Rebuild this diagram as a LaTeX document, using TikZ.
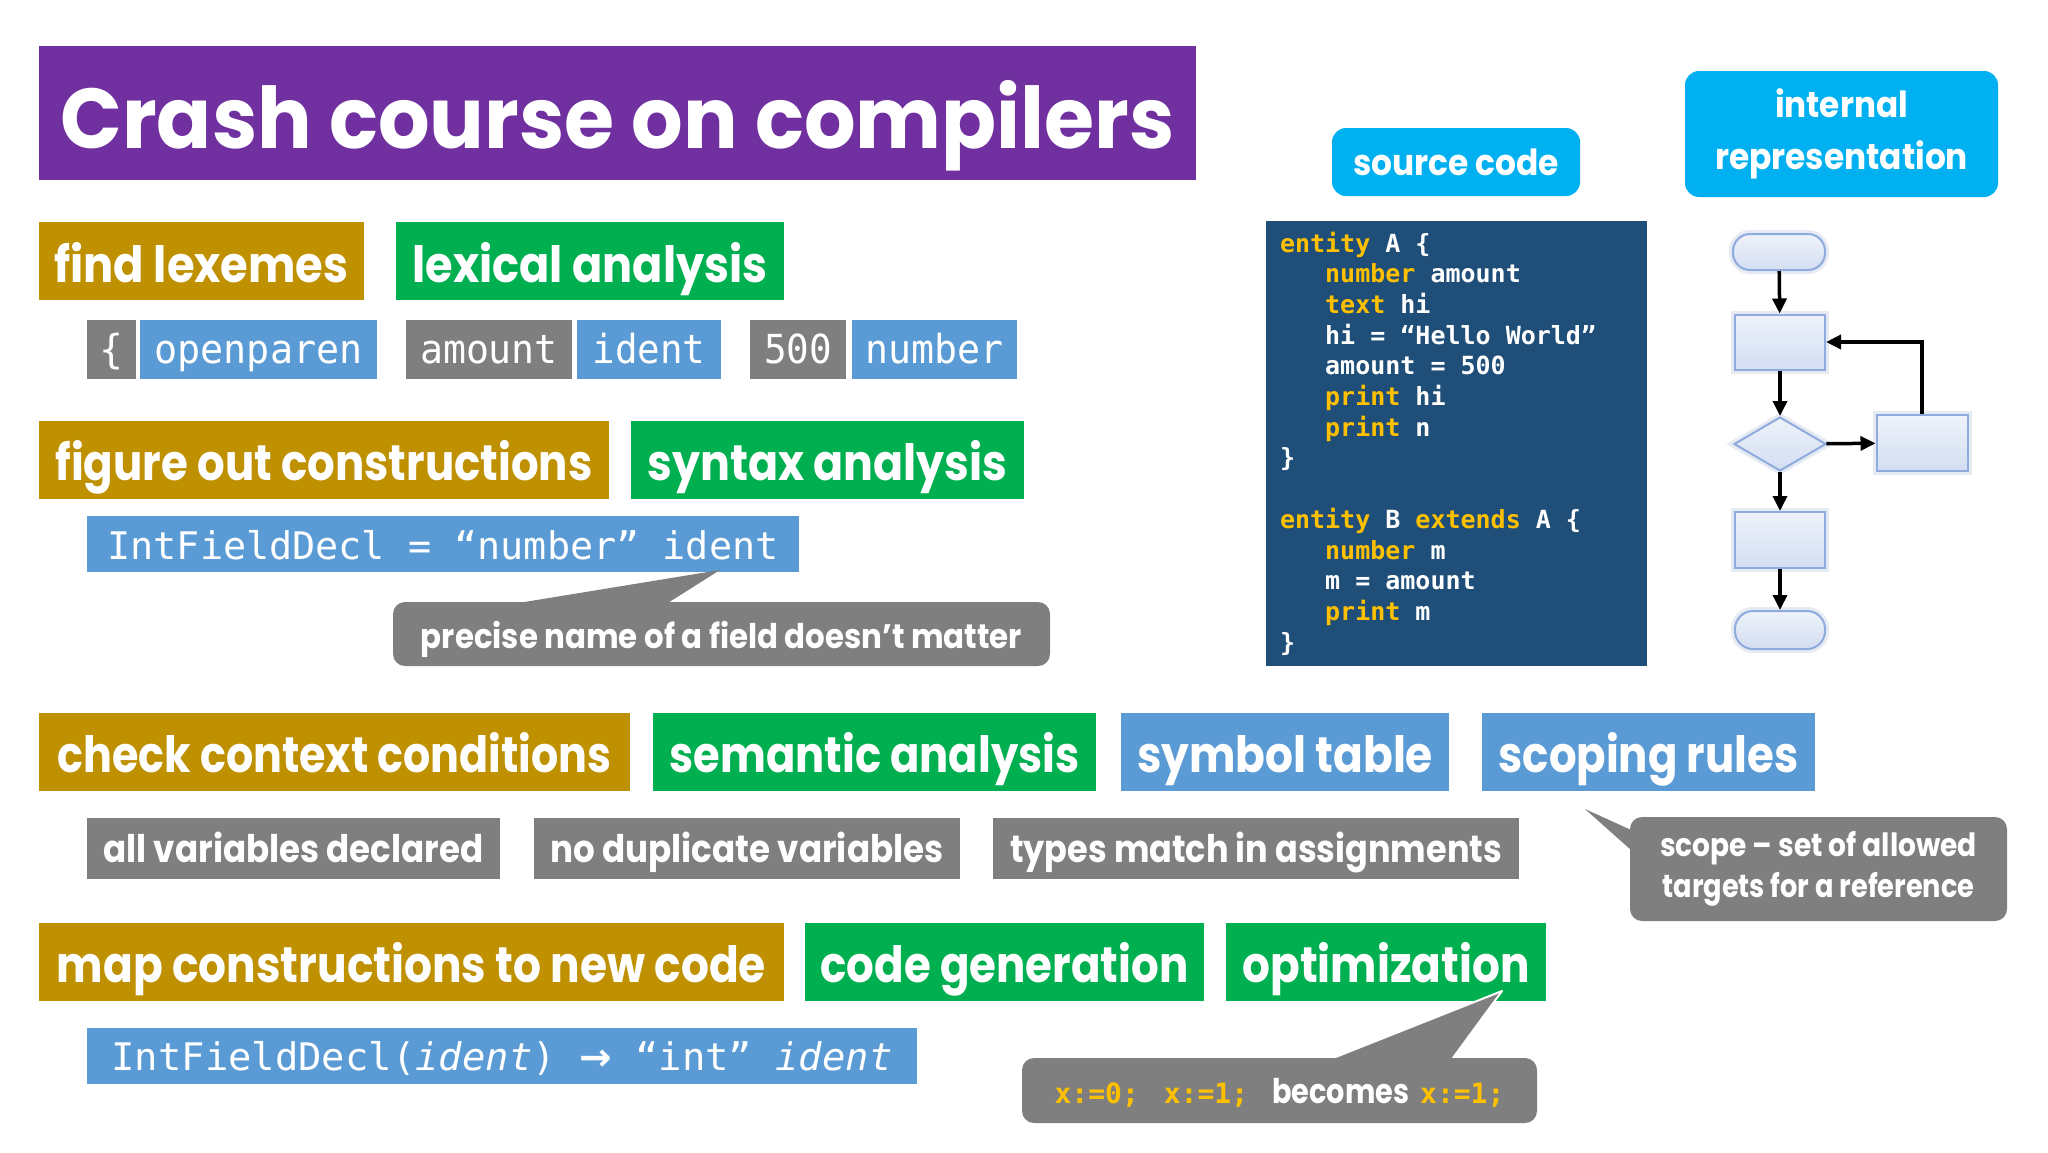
\documentclass[tikz,border=0pt]{standalone}
\usepackage{fontspec}
\usepackage{graphicx}
\setmainfont{Poppins}
\setmonofont{DejaVu Sans Mono}
\newfontfamily\dvsans{DejaVu Sans}
\usetikzlibrary{shapes.geometric,arrows.meta}
\definecolor{cpurple}{HTML}{7030A0}
\definecolor{cgold}{HTML}{BF9000}
\definecolor{cgreen}{HTML}{00B050}
\definecolor{cblue}{HTML}{5B9BD5}
\definecolor{cgray}{HTML}{7F7F7F}
\definecolor{ccyan}{HTML}{00B0F0}
\definecolor{ccode}{HTML}{1F4E79}
\definecolor{kwyellow}{HTML}{FFC000}
\definecolor{fcborder}{HTML}{8FAADC}
\definecolor{fcglow}{HTML}{E6EBF3}
\definecolor{fctop}{HTML}{EEF2FA}
\definecolor{fcbot}{HTML}{D3DEF2}
\newcommand{\fitw}[2]{\resizebox{#1pt}{\height}{#2}}
\newcommand{\kw}[1]{{\color{kwyellow}#1}}
\newcommand{\ms}{\hspace*{15.05pt}}
\newcommand{\ind}{\hspace*{45.15pt}}
\tikzset{
  base/.style={rectangle, inner sep=0pt, outer sep=0pt, text=white},
  head/.style={base, minimum height=78pt, text height=46pt, text depth=4pt, font=\fontsize{50}{60}\selectfont\bfseries},
  tok/.style={base, minimum height=59pt, text height=32pt, text depth=5pt, font=\fontsize{40}{48}\selectfont\ttfamily},
  item/.style={base, fill=cgray, minimum height=61pt, text height=31pt, text depth=4pt, font=\fontsize{38}{46}\selectfont\bfseries},
  rule/.style={base, fill=cblue, minimum height=56pt, font=\fontsize{38}{46}\selectfont\ttfamily},
  callout/.style={base, fill=cgray, rounded corners=12pt, font=\fontsize{34}{41}\selectfont\bfseries},
  btn/.style={base, fill=ccyan, rounded corners=14pt, font=\fontsize{36}{51.5}\selectfont\bfseries},
  fc/.style={draw=fcborder, top color=fctop, bottom color=fcbot, line width=2pt, inner sep=0pt, preaction={draw=fcglow, line width=8pt}},
  fcarrow/.style={-{Triangle[length=15pt,width=14pt]}, line width=3.5pt, black},
}
\begin{document}
\begin{tikzpicture}[x=1pt,y=-1pt]
\useasboundingbox[fill=white] (0,0) rectangle (2048,1152);

% title
\node[base, fill=cpurple, minimum width=1157pt, minimum height=134pt, text height=80pt, text depth=10pt, font=\fontsize{85}{100}\selectfont\bfseries] (title) at (617.5,113) {\fitw{1114}{Crash course on compilers}};

% row 1
\node[head, fill=cgold, minimum width=325pt] (lex1) at (201.5,261) {\fitw{294}{find lexemes}};
\node[head, fill=cgreen, minimum width=388pt] (lex2) at (590,261) {\fitw{355}{lexical analysis}};
\node[tok, fill=cgray, minimum width=49pt] (tk1) at (111.5,349.5) {\{};
\node[tok, fill=cblue, minimum width=237pt] (tk2) at (258.5,349.5) {\fitw{208}{openparen}};
\node[tok, fill=cgray, minimum width=166pt] (tk3) at (489,349.5) {\fitw{138}{amount}};
\node[tok, fill=cblue, minimum width=144pt] (tk4) at (649,349.5) {\fitw{113}{ident}};
\node[tok, fill=cgray, minimum width=96pt] (tk5) at (798,349.5) {\fitw{68}{500}};
\node[tok, fill=cblue, minimum width=165pt] (tk6) at (934.5,349.5) {\fitw{138}{number}};

% row 2
\node[head, fill=cgold, minimum width=570pt] (syn1) at (324,459.5) {\fitw{537}{figure out constructions}};
\node[head, fill=cgreen, minimum width=393pt] (syn2) at (827.5,459.5) {\fitw{360}{syntax analysis}};
\node[rule, minimum width=712pt, text height=34pt, text depth=4pt] (ifd1) at (443,544) {\fitw{671}{IntFieldDecl = “number” ident}};
\coordinate (p1tip) at (720,570);
\coordinate (p1a) at (500,606);
\coordinate (p1b) at (663,606);
\fill[cgray] (p1tip) -- (p1a) -- (p1b) -- cycle;
\node[callout, minimum width=657pt, minimum height=64pt, text height=32pt, text depth=4pt] (note1) at (721.5,634) {\fitw{601}{precise name of a field doesn’t matter}};

% row 3
\node[head, fill=cgold, minimum width=591pt] (sem1) at (334.5,751.5) {\fitw{554}{check context conditions}};
\node[head, fill=cgreen, minimum width=443pt] (sem2) at (874.5,751.5) {\fitw{410}{semantic analysis}};
\node[head, fill=cblue, minimum width=328pt] (sym) at (1285,751.5) {\fitw{296}{symbol table}};
\node[head, fill=cblue, minimum width=333pt] (scp) at (1648.5,751.5) {\fitw{300}{scoping rules}};
\node[item, minimum width=413pt] (it1) at (293.5,848.5) {\fitw{380}{all variables declared}};
\node[item, minimum width=426pt] (it2) at (747,848.5) {\fitw{393}{no duplicate variables}};
\node[item, minimum width=526pt] (it3) at (1256,848.5) {\fitw{492}{types match in assignments}};
\coordinate (p2tip) at (1585,809);
\coordinate (p2a) at (1640,834);
\coordinate (p2b) at (1640,858);
\fill[cgray] (p2tip) -- (p2a) -- (p2b) -- cycle;
\node[callout, minimum width=377pt, minimum height=104pt, align=center, font=\fontsize{32}{41}\selectfont\bfseries] (note2) at (1818.5,869) {\fitw{317}{scope – set of allowed}\\\fitw{312}{targets for a reference}};

% row 4
\node[head, fill=cgold, minimum width=745pt] (gen1) at (411.5,961.5) {\fitw{709}{map constructions to new code}};
\node[head, fill=cgreen, minimum width=399pt] (gen2) at (1004.5,961.5) {\fitw{368}{code generation}};
\node[head, fill=cgreen, minimum width=320pt] (opt) at (1386,961.5) {\fitw{287}{optimization}};
\node[rule, minimum width=830pt, text height=33pt, text depth=5pt] (ifd2) at (502,1056) {\fitw{781}{IntFieldDecl(\textit{ident}) {\dvsans\bfseries →} “int” \textit{ident}}};
\coordinate (p3tip) at (1502,991);
\coordinate (p3a) at (1323,1062);
\coordinate (p3b) at (1450,1062);
\filldraw[fill=cgray, draw=white, line width=2pt, line join=round] (p3tip) -- (p3a) -- (p3b) -- cycle;
\node[callout, minimum width=515pt, minimum height=65pt, text height=30pt, text depth=5pt] (note3) at (1279.5,1090.5) {{\fontsize{28}{34}\selectfont\ttfamily\color{kwyellow}x:=0;\hspace{25pt}x:=1;}\hspace{24pt}\fitw{137}{becomes}\hspace{11pt}{\fontsize{28}{34}\selectfont\ttfamily\color{kwyellow}x:=1;}};

% source code
\node[btn, minimum width=248pt, minimum height=68pt, text height=30pt, text depth=4pt] (src) at (1456,162) {\fitw{206}{source code}};
\node[base, fill=ccode, minimum width=381pt, minimum height=445pt, text width=353pt, align=left, font=\fontsize{25}{30.7}\selectfont\ttfamily\bfseries] (code) at (1456.5,443.5) {%
\kw{entity}\ms A\ms\{\\
\ind\kw{number}\ms amount\\
\ind\kw{text}\ms hi\\
\ind hi\ms=\ms“Hello\ms World”\\
\ind amount\ms=\ms500\\
\ind\kw{print}\ms hi\\
\ind\kw{print}\ms n\\
\}\\[30.7pt]
\kw{entity}\ms B\ms\kw{extends}\ms A\ms\{\\
\ind\kw{number}\ms m\\
\ind m\ms=\ms amount\\
\ind\kw{print}\ms m\\
\}};

% internal representation
\node[btn, minimum width=313pt, minimum height=126pt, align=center] (ir) at (1841.5,134) {\fitw{133}{internal}\\\fitw{253}{representation}};

% flowchart
\node[fc, rectangle, rounded corners=17pt, minimum width=92pt, minimum height=36pt] (ft1) at (1779,252) {};
\node[fc, rectangle, minimum width=90pt, minimum height=55pt] (fr1) at (1780,342) {};
\node[fc, diamond, aspect=1.7, minimum width=92pt, minimum height=54pt] (fdm) at (1780,444) {};
\node[fc, rectangle, minimum width=91pt, minimum height=56pt] (frr) at (1922,443) {};
\node[fc, rectangle, minimum width=90pt, minimum height=56pt] (fr2) at (1780,540) {};
\node[fc, rectangle, rounded corners=18pt, minimum width=90pt, minimum height=38pt] (ft2) at (1780,630) {};
\draw[fcarrow] (ft1) -- (fr1);
\draw[fcarrow] (fr1) -- (fdm);
\draw[fcarrow] (fdm) -- (fr2);
\draw[fcarrow] (fr2) -- (ft2);
\draw[fcarrow] (fdm) -- (frr);
\draw[fcarrow] (frr.north) |- (fr1.east);
\end{tikzpicture}
\end{document}
